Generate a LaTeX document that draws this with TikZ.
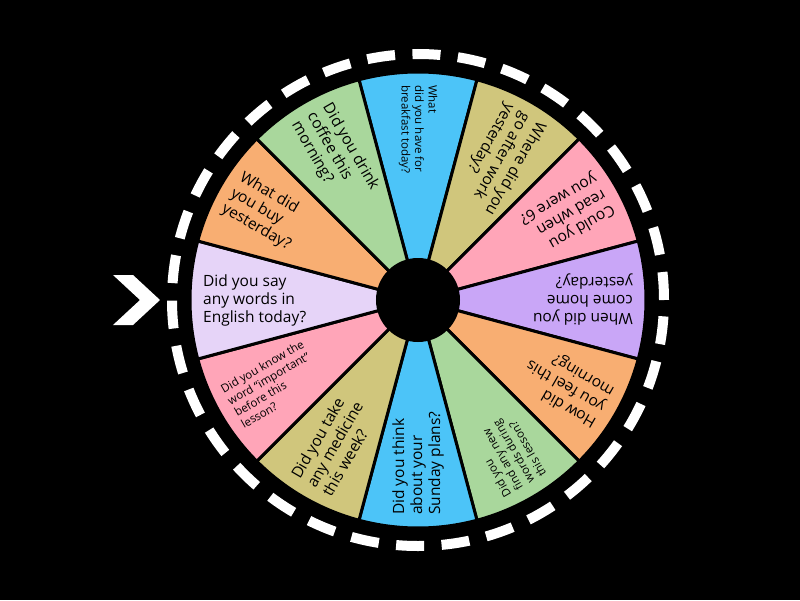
\documentclass[tikz,border=0pt]{standalone}
\usepackage{fontspec}
\setmainfont{Open Sans}
\definecolor{cblue}{HTML}{4CC4F8}
\definecolor{ckhaki}{HTML}{D0C67C}
\definecolor{cpink}{HTML}{FFA5B8}
\definecolor{cpurple}{HTML}{C9A6F7}
\definecolor{corange}{HTML}{F8AE72}
\definecolor{cgreen}{HTML}{A9D79C}
\definecolor{clav}{HTML}{E6D4F8}
\tikzset{lab/.style={anchor=west,align=left,font=\fontsize{15.5}{18}\selectfont,inner sep=0pt},
 slab/.style={lab,font=\fontsize{11.5}{13.5}\selectfont}}
\begin{document}
\begin{tikzpicture}[x=1pt,y=1pt]
\fill[black] (-418,-300) rectangle (382,300);
\useasboundingbox (-418,-300) rectangle (382,300);
\foreach \a/\c in {90/cblue,60/ckhaki,30/cpink,0/cpurple,-30/corange,-60/cgreen,-90/cblue,-120/ckhaki,-150/cpink,180/clav,150/corange,120/cgreen}{
  \filldraw[fill=\c,draw=black,line width=3pt] (0,0) -- (\a-15:228) arc (\a-15:\a+15:228) -- cycle;
}
\fill[black] (0,0) circle (42);
\draw[white,line width=10pt,dash pattern=on 28pt off 17.5pt] (0,0) circle (246);
\node[slab,rotate=270] (t1) at (90:215) {What\\did you have for\\breakfast today?};
\node[lab,rotate=240] (t2) at (60:215) {Where did you\\go after work\\yesterday?};
\node[lab,rotate=210] (t3) at (30:215) {Could you\\read when\\you were 6?};
\node[lab,rotate=180] (t4) at (0:215) {When did you\\come home\\yesterday?};
\node[lab,rotate=150] (t5) at (-30:215) {How did\\you feel this\\morning?};
\node[slab,rotate=120] (t6) at (-60:215) {Did you\\find any new\\words during\\this lesson?};
\node[lab,rotate=90] (t7) at (-90:215) {Did you think\\about your\\Sunday plans?};
\node[lab,rotate=60] (t8) at (-120:215) {Did you take\\any medicine\\this week?};
\node[slab,rotate=30] (t9) at (-150:215) {Did you know the\\word “important”\\before this\\lesson?};
\node[lab,rotate=0] (t10) at (180:215) {Did you say\\any words in\\English today?};
\node[lab,rotate=-30] (t11) at (150:215) {What did\\you buy\\yesterday?};
\node[lab,rotate=-60] (t12) at (120:215) {Did you drink\\coffee this\\morning?};
\fill[white] (-305,25) -- (-285,25) -- (-258,0) -- (-285,-25) -- (-305,-25) -- (-278,0) -- cycle;
\end{tikzpicture}
\end{document}
